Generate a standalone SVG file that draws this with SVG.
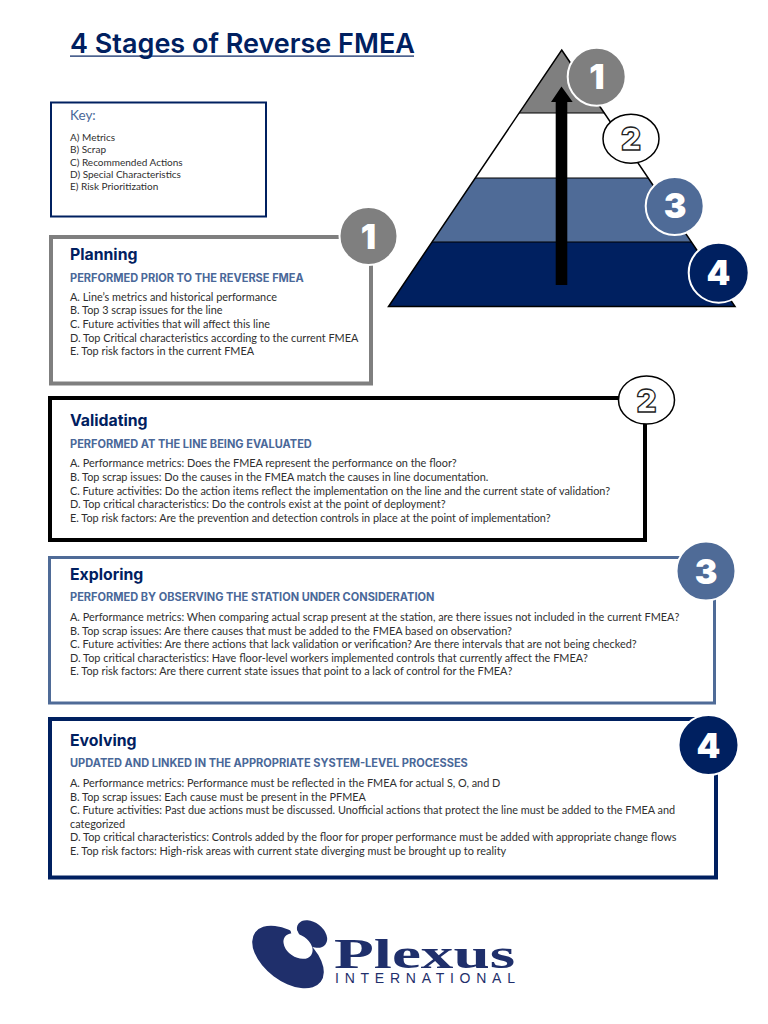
<svg xmlns="http://www.w3.org/2000/svg" width="768" height="1024" viewBox="0 0 768 1024">
<style>
text{font-family:"Lato","Liberation Sans",sans-serif;fill:#2f2f2f}
.h{font-family:"Inter","Liberation Sans",sans-serif;font-weight:700;font-size:15.8px;fill:#002060}
.s{font-family:"Inter","Liberation Sans",sans-serif;font-weight:700;font-size:11.03px;fill:#4a6899}
.b{font-size:10.88px}
.k{font-size:10px}
.box{fill:#fff}
.n{font-family:"Inter","Liberation Sans",sans-serif;font-weight:900;text-anchor:middle;fill:#fff;font-size:34px}
.o{stroke:#222;stroke-width:1.300;font-size:31px}
.halo{stroke:#fff;stroke-width:2}
</style>
<rect width="768" height="1024" fill="#fff"/>
<g id="title"><text x="70" y="53" style="font-family:Inter,'Liberation Sans',sans-serif;font-weight:600;font-size:27px;fill:#002060">4 Stages of Reverse FMEA</text><rect x="70" y="55.500" width="344" height="1.200" fill="#002060"/></g>
<g id="pyramid">
<polygon points="561.700,50 604.300,113 519.100,113" fill="#7f7f7f"/>
<polygon points="475.200,178 648.200,178 691.400,242 432,242" fill="#4f6b97"/>
<polygon points="432,242 691.400,242 735,306.500 388.500,306.500" fill="#002060"/>
<polygon points="561.700,50 735,306.500 388.500,306.500" fill="none" stroke="#000" stroke-width="1.500"/>
<path d="M519.100 113H604.300M475.200 178H648.200M432 242H691.400" stroke="#000" stroke-width="1.200" fill="none"/>
<polygon points="555.700,285 567.300,285 567.300,102 572.700,102 561.500,86.500 551,102 555.700,102" fill="#000"/>
</g>
<g id="pyramid-badge-1"><circle cx="596.700" cy="76.700" r="29" fill="#7f7f7f" class="halo"/><text x="597" y="89" class="n">1</text></g>
<g id="pyramid-badge-2"><ellipse cx="631" cy="138.700" rx="28" ry="24.500" fill="#fff" stroke="#000" stroke-width="1.500"/><text x="631" y="150" class="n o">2</text></g>
<g id="pyramid-badge-3"><circle cx="674.700" cy="206" r="29" fill="#4f6b97" class="halo"/><text x="675" y="218" class="n">3</text></g>
<g id="pyramid-badge-4"><circle cx="718.700" cy="272.700" r="30" fill="#002060" class="halo"/><text x="718.500" y="285" class="n">4</text></g>
<g id="key"><rect x="51" y="102.500" width="215" height="114" class="box" stroke="#002060" stroke-width="2"/>
<text x="70" y="120" style="font-size:13.500px;fill:#4a6899">Key:</text>
<text class="k" x="70" y="141">A) Metrics</text><text class="k" x="70" y="153">B) Scrap</text><text class="k" x="70" y="165.500">C) Recommended Actions</text><text class="k" x="70" y="177.500">D) Special Characteristics</text><text class="k" x="70" y="190">E) Risk Prioritization</text></g>
<g id="planning"><rect x="51" y="237" width="320" height="146.500" class="box" stroke="#7f7f7f" stroke-width="4"/>
<circle cx="368.500" cy="236" r="29" fill="#7f7f7f" class="halo"/><text x="368.500" y="248.500" class="n">1</text>
<text class="h" x="70" y="260">Planning</text><text class="s" x="70" y="282">PERFORMED PRIOR TO THE REVERSE FMEA</text>
<text class="b" x="70" y="301">A. Line’s metrics and historical performance</text><text class="b" x="70" y="314">B. Top 3 scrap issues for the line</text><text class="b" x="70" y="328">C. Future activities that will affect this line</text><text class="b" x="70" y="342">D. Top Critical characteristics according to the current FMEA</text><text class="b" x="70" y="355">E. Top risk factors in the current FMEA</text></g>
<g id="validating"><rect x="50" y="398" width="595" height="142" class="box" stroke="#000" stroke-width="4"/>
<ellipse cx="646.500" cy="400" rx="28" ry="24" fill="#fff" stroke="#000" stroke-width="1.500"/><text x="646.500" y="411.500" class="n o">2</text>
<text class="h" x="70" y="426">Validating</text><text class="s" x="70" y="447.500">PERFORMED AT THE LINE BEING EVALUATED</text>
<text class="b" x="70" y="467">A. Performance metrics: Does the FMEA represent the performance on the floor?</text><text class="b" x="70" y="481">B. Top scrap issues: Do the causes in the FMEA match the causes in line documentation.</text><text class="b" x="70" y="494.500">C. Future activities: Do the action items reflect the implementation on the line and the current state of validation?</text><text class="b" x="70" y="508">D. Top critical characteristics: Do the controls exist at the point of deployment?</text><text class="b" x="70" y="521.500">E. Top risk factors: Are the prevention and detection controls in place at the point of implementation?</text></g>
<g id="exploring"><rect x="49.500" y="557.500" width="665" height="145.500" class="box" stroke="#4f6b97" stroke-width="3"/>
<circle cx="706" cy="571" r="29.500" fill="#4f6b97" class="halo"/><text x="706" y="583.500" class="n">3</text>
<text class="h" x="70" y="580">Exploring</text><text class="s" x="70" y="601">PERFORMED BY OBSERVING THE STATION UNDER CONSIDERATION</text>
<text class="b" x="70" y="621">A. Performance metrics: When comparing actual scrap present at the station, are there issues not included in the current FMEA?</text><text class="b" x="70" y="634.500">B. Top scrap issues: Are there causes that must be added to the FMEA based on observation?</text><text class="b" x="70" y="648">C. Future activities: Are there actions that lack validation or verification? Are there intervals that are not being checked?</text><text class="b" x="70" y="661.500">D. Top critical characteristics: Have floor-level workers implemented controls that currently affect the FMEA?</text><text class="b" x="70" y="675">E. Top risk factors: Are there current state issues that point to a lack of control for the FMEA?</text></g>
<g id="evolving"><rect x="50" y="719" width="666" height="158.500" class="box" stroke="#002060" stroke-width="4"/>
<circle cx="708.500" cy="745" r="30" fill="#002060" class="halo"/><text x="708.500" y="757.500" class="n">4</text>
<text class="h" x="70" y="746">Evolving</text><text class="s" x="70" y="767">UPDATED AND LINKED IN THE APPROPRIATE SYSTEM-LEVEL PROCESSES</text>
<text class="b" x="70" y="787">A. Performance metrics: Performance must be reflected in the FMEA for actual S, O, and D</text><text class="b" x="70" y="801">B. Top scrap issues: Each cause must be present in the PFMEA</text><text class="b" x="70" y="814">C. Future activities: Past due actions must be discussed. Unofficial actions that protect the line must be added to the FMEA and</text><text class="b" x="70" y="828">categorized</text><text class="b" x="70" y="841">D. Top critical characteristics: Controls added by the floor for proper performance must be added with appropriate change flows</text><text class="b" x="70" y="855">E. Top risk factors: High-risk areas with current state diverging must be brought up to reality</text></g>
<g id="logo">
<ellipse cx="288" cy="957" rx="41" ry="24" transform="rotate(37 288 957)" fill="#1f2f6b"/>
<ellipse cx="312" cy="934" rx="17" ry="11.500" transform="rotate(38 312 934)" fill="#1f2f6b"/>
<ellipse cx="298" cy="946" rx="16" ry="11" transform="rotate(35 298 946)" fill="#fff"/>
<path d="M289 925L297 921Q294 930 303 939L293 940Z" fill="#fff"/>
<text x="334" y="968" style="font-family:'Liberation Serif',serif;font-weight:700;font-size:43px;fill:#1f2f6b" textLength="181" lengthAdjust="spacingAndGlyphs">Plexus</text>
<text x="335" y="983" style="font-family:'Liberation Sans',sans-serif;font-size:14px;fill:#1f2f6b" textLength="180">INTERNATIONAL</text>
</g>
</svg>
